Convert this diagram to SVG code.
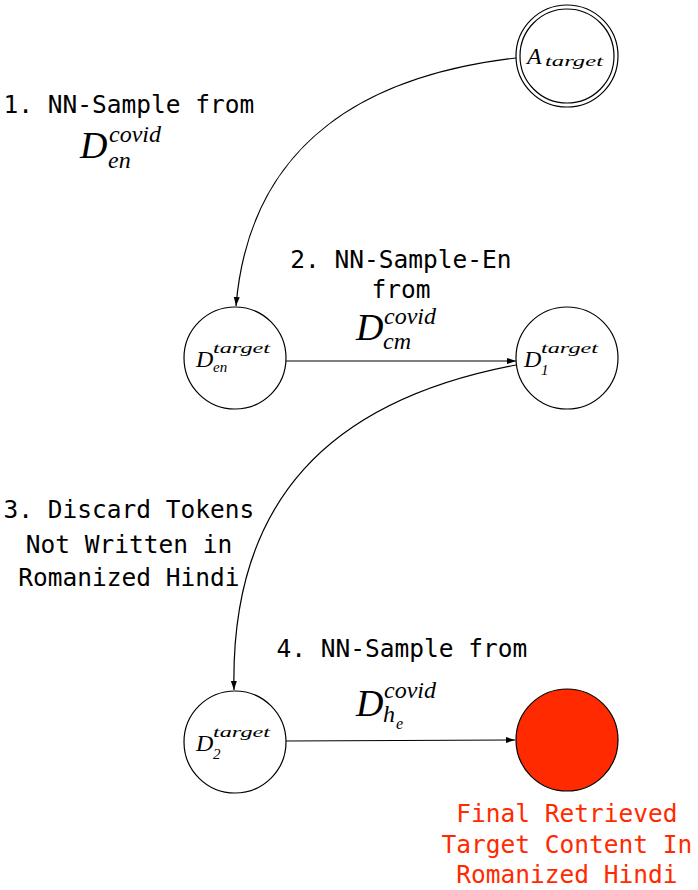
<svg xmlns="http://www.w3.org/2000/svg" width="698" height="890" viewBox="0 0 698 890">
<style>
.n{fill:#fff;stroke:#000;stroke-width:1.2}
.e{fill:none;stroke:#000;stroke-width:1.2;marker-end:url(#ah)}
.t{font-family:"DejaVu Sans Mono",monospace;font-size:24.5px;text-anchor:middle;fill:#000}
.m{font-family:"Liberation Serif",serif;font-style:italic;fill:#000}
.r{fill:#ff2a00}
</style>
<defs><marker id="ah" markerWidth="10" markerHeight="8" refX="9" refY="4" orient="auto" markerUnits="userSpaceOnUse"><path d="M0,1 L9,4 L0,7 z" fill="#000"/></marker></defs>
<rect width="698" height="890" fill="#fff"/>
<g id="connectors">
<path class="e" d="M516,58 C370,75 250,140 236,306"/>
<path class="e" d="M286,361 L516,361"/>
<path class="e" d="M516,365 C330,400 230,500 234,690"/>
<path class="e" d="M286,741 L515,740"/>
</g>
<g id="A"><circle class="n" cx="567" cy="56" r="51"/><circle class="n" cx="567" cy="56" r="47"/>
<text class="m" x="527" y="64" font-size="24">A</text>
<text class="m" x="545" y="66" font-size="15" textLength="58" lengthAdjust="spacingAndGlyphs">target</text></g>
<g id="Den"><circle class="n" cx="235" cy="358" r="51"/>
<text class="m" x="196" y="367" font-size="24">D</text>
<text class="m" x="213" y="353" font-size="15" textLength="57" lengthAdjust="spacingAndGlyphs">target</text>
<text class="m" x="213" y="372" font-size="15">en</text></g>
<g id="D1"><circle class="n" cx="567" cy="358" r="51"/>
<text class="m" x="524" y="367" font-size="24">D</text>
<text class="m" x="541" y="353" font-size="15" textLength="57" lengthAdjust="spacingAndGlyphs">target</text>
<text class="m" x="541" y="375" font-size="15" font-style="normal">1</text></g>
<g id="D2"><circle class="n" cx="235" cy="742" r="51"/>
<text class="m" x="196" y="751" font-size="24">D</text>
<text class="m" x="213" y="737" font-size="15" textLength="57" lengthAdjust="spacingAndGlyphs">target</text>
<text class="m" x="213" y="759" font-size="15" font-style="normal">2</text></g>
<g id="final"><circle cx="567" cy="740" r="51" fill="#ff2a00" stroke="#000" stroke-width="1.2"/>
<text class="t r" x="567" y="822">Final Retrieved</text>
<text class="t r" x="567" y="853">Target Content In</text>
<text class="t r" x="567" y="883">Romanized Hindi</text></g>
<g id="labels">
<text class="t" x="129" y="113">1. NN-Sample from</text>
<text class="m" x="80" y="158" font-size="38">D</text>
<text class="m" x="109" y="142" font-size="24">covid</text>
<text class="m" x="108" y="168" font-size="24">en</text>
<text class="t" x="401" y="268">2. NN-Sample-En</text>
<text class="t" x="401" y="298">from</text>
<text class="m" x="356" y="340" font-size="38">D</text>
<text class="m" x="384" y="324" font-size="24">covid</text>
<text class="m" x="383" y="349" font-size="24">cm</text>
<text class="t" x="129" y="518">3. Discard Tokens</text>
<text class="t" x="129" y="553">Not Written in</text>
<text class="t" x="129" y="586">Romanized Hindi</text>
<text class="t" x="402" y="657">4. NN-Sample from</text>
<text class="m" x="356" y="716" font-size="38">D</text>
<text class="m" x="384" y="698" font-size="24">covid</text>
<text class="m" x="383" y="722" font-size="24">h</text>
<text class="m" x="396" y="729" font-size="16">e</text>
</g>
</svg>
